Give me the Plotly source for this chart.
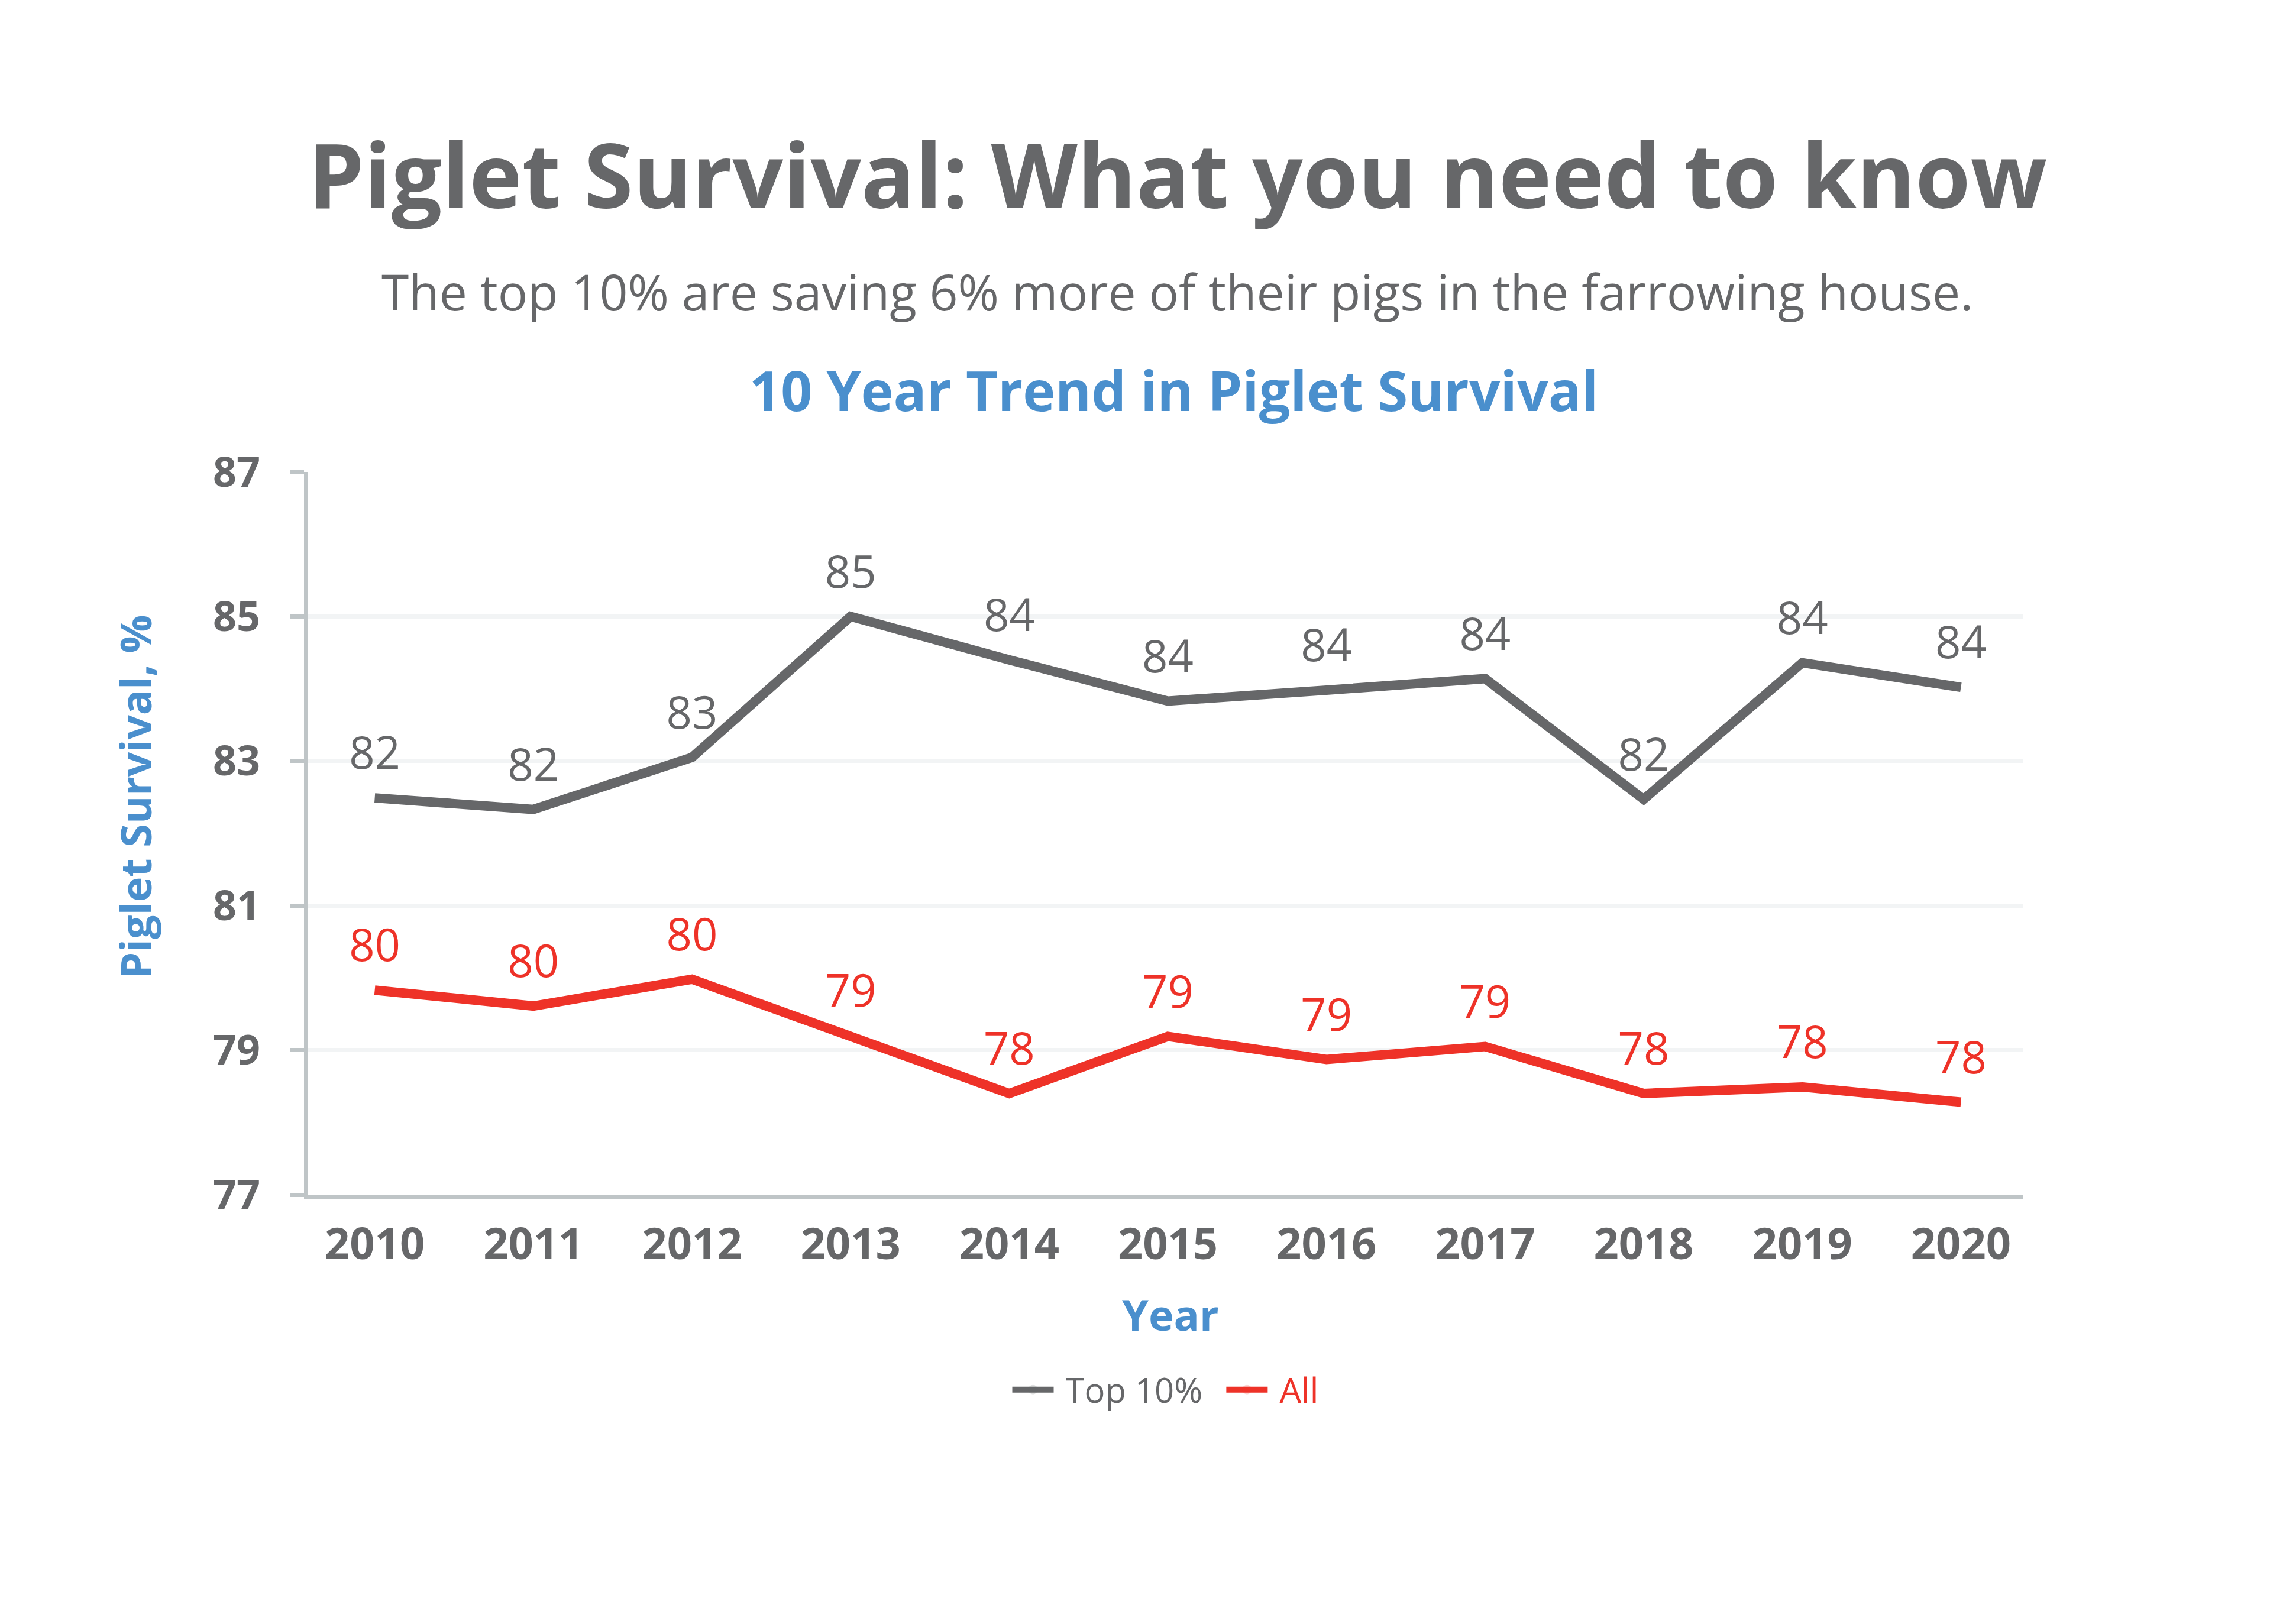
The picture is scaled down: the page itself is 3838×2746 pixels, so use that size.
import plotly.graph_objects as go

years = ["2010", "2011", "2012", "2013", "2014", "2015", "2016", "2017", "2018", "2019", "2020"]
top10 = [82.49, 82.33, 83.05, 85.0, 84.4, 83.83, 83.98, 84.14, 82.47, 84.36, 84.02]
all_farms = [79.83, 79.61, 79.98, 79.2, 78.4, 79.19, 78.87, 79.05, 78.4, 78.49, 78.28]
top10_labels = ["82", "82", "83", "85", "84", "84", "84", "84", "82", "84", "84"]
all_labels = ["80", "80", "80", "79", "78", "79", "79", "79", "78", "78", "78"]
y_ticks = [77, 79, 81, 83, 85, 87]

GRAY = "#666769"
RED = "#EE3228"
BLUE = "#4A8FCD"
AXIS = "#BFC5C7"
FONT = "Open Sans"
NB = "\u00a0"

fig = go.Figure()
fig.add_trace(go.Scatter(
    x=list(range(len(years))), y=top10, name=NB + "Top 10%" + NB * 2,
    mode="lines+markers+text", text=top10_labels, textposition="top center",
    textfont=dict(family=FONT, size=76, color=GRAY),
    line=dict(color=GRAY, width=16),
    marker=dict(size=46, opacity=0, color=GRAY),
    hoverinfo="skip",
))
fig.add_trace(go.Scatter(
    x=list(range(len(years))), y=all_farms,
    name=NB + "<span style='color:%s'>All</span>" % RED,
    mode="lines+markers+text", text=all_labels, textposition="top center",
    textfont=dict(family=FONT, size=76, color=RED),
    line=dict(color=RED, width=16),
    marker=dict(size=46, opacity=0, color=RED),
    hoverinfo="skip",
))

fig.update_layout(
    width=3838, height=2746,
    margin=dict(l=521, r=418, t=798, b=726),
    paper_bgcolor="white", plot_bgcolor="white",
    font=dict(family=FONT, color=GRAY),
    showlegend=True,
    legend=dict(orientation="h", x=0.5, xanchor="center", y=-0.27, yanchor="middle",
                font=dict(family=FONT, size=58, color=GRAY), itemwidth=70,
                bgcolor="rgba(0,0,0,0)"),
    xaxis=dict(
        tickmode="array", tickvals=list(range(len(years))), ticktext=years,
        range=[-0.42, 10.39], showgrid=False, zeroline=False,
        showline=True, linecolor=AXIS, linewidth=8, ticks="",
        tickfont=dict(family=FONT, size=74, color=GRAY, weight="bold"),
        ticklabelstandoff=12,
    ),
    yaxis=dict(
        range=[77, 87], tickvals=y_ticks, showgrid=True, gridcolor="#F2F4F5", gridwidth=7,
        zeroline=False, showline=True, linecolor=AXIS, linewidth=7,
        ticks="outside", ticklen=24, tickwidth=7, tickcolor=AXIS,
        tickfont=dict(family=FONT, size=70, color=GRAY, weight="bold"),
        ticklabelstandoff=36,
    ),
    annotations=[
        dict(text="<b>Piglet Survival: What you need to know</b>", x=0.507, y=1.413,
             xref="paper", yref="paper", xanchor="center", yanchor="middle", showarrow=False,
             font=dict(family=FONT, size=151, color=GRAY)),
        dict(text="The top 10% are saving 6% more of their pigs in the farrowing house.", x=0.507, y=1.25,
             xref="paper", yref="paper", xanchor="center", yanchor="middle", showarrow=False,
             font=dict(family=FONT, size=84, color=GRAY)),
        dict(text="<b>10 Year Trend in Piglet Survival</b>", x=0.505, y=1.114,
             xref="paper", yref="paper", xanchor="center", yanchor="middle", showarrow=False,
             font=dict(family=FONT, size=93, color=BLUE)),
        dict(text="<b>Year</b>", x=0.503, y=-0.165,
             xref="paper", yref="paper", xanchor="center", yanchor="middle", showarrow=False,
             font=dict(family=FONT, size=72, color=BLUE)),
        dict(text="<b>Piglet Survival, %</b>", x=-0.101, y=0.55, textangle=-90,
             xref="paper", yref="paper", xanchor="center", yanchor="middle", showarrow=False,
             font=dict(family=FONT, size=72, color=BLUE)),
    ],
)

fig.write_html("out.html")
